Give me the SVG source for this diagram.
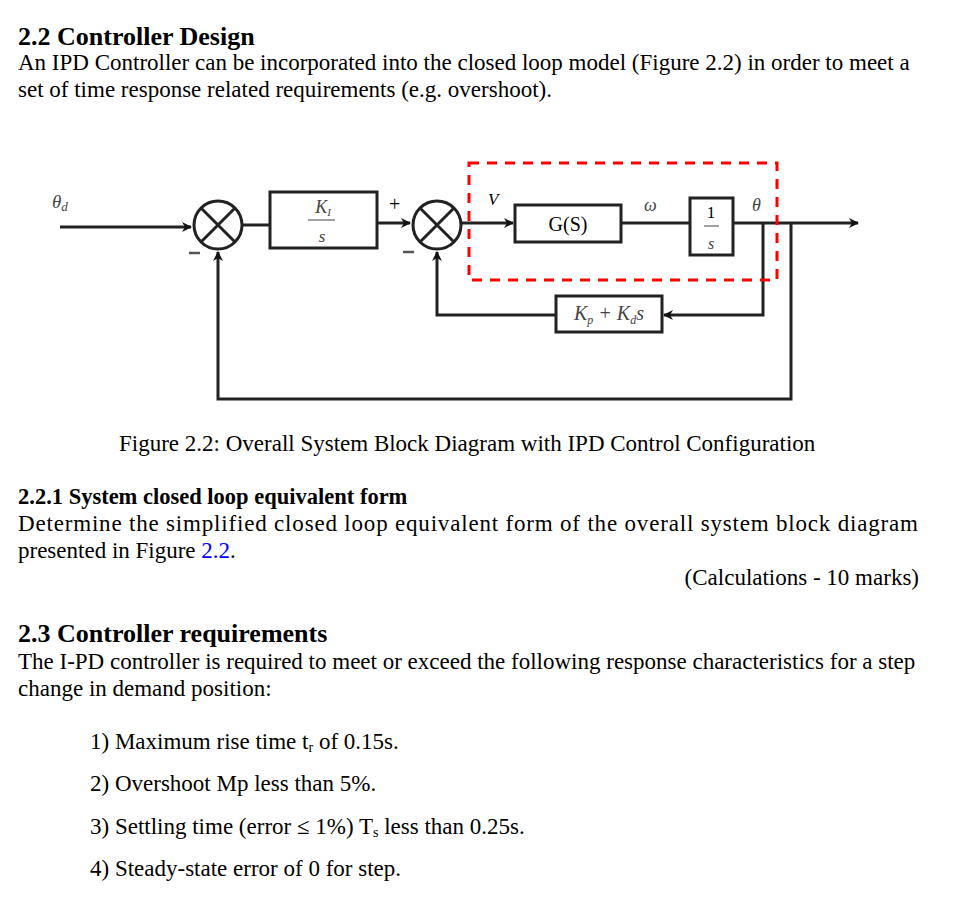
<svg xmlns="http://www.w3.org/2000/svg" width="961" height="923" viewBox="0 0 961 923">
<style>
text{font-family:"Liberation Serif",serif;fill:#000}
.h{font-weight:bold;font-size:26px}
.b{font-size:23px}
.blk{fill:#fff;stroke:#222;stroke-width:3}
.ln{fill:none;stroke:#222;stroke-width:3}
.m{font-family:"Liberation Serif",serif;font-style:italic;fill:#444}
</style>
<defs><marker id="a" markerWidth="10" markerHeight="10" refX="9" refY="5" orient="auto" markerUnits="userSpaceOnUse"><path d="M0,0L10,5L0,10L3,5z" fill="#111"/></marker></defs>
<rect width="961" height="923" fill="#fff"/>
<text class="h" x="18" y="45">2.2 Controller Design</text>
<text class="b" x="18" y="70">An IPD Controller can be incorporated into the closed loop model (Figure 2.2) in order to meet a</text>
<text class="b" x="18" y="97">set of time response related requirements (e.g. overshoot).</text>
<g id="connectors">
<line class="ln" x1="60" y1="227" x2="191" y2="227" stroke-width="4" marker-end="url(#a)"/>
<line class="ln" x1="243" y1="225" x2="270" y2="225"/>
<line class="ln" x1="377" y1="223" x2="410" y2="223" marker-end="url(#a)"/>
<line class="ln" x1="462" y1="223" x2="513" y2="223" marker-end="url(#a)"/>
<line class="ln" x1="621" y1="223" x2="690" y2="223"/>
<line class="ln" x1="733" y1="223" x2="858" y2="223" marker-end="url(#a)"/>
<polyline class="ln" points="763,223 763,315 664,315" marker-end="url(#a)"/>
<polyline class="ln" points="556,315 437,315 437,252" marker-end="url(#a)"/>
<polyline class="ln" points="791,223 791,399 218,399 218,252" marker-end="url(#a)"/>
</g>
<g id="sum1"><circle class="blk" cx="218" cy="225" r="24"/><path class="ln" d="M201,208L235,242M235,208L201,242"/><line x1="189" y1="253" x2="200" y2="253" stroke="#555" stroke-width="2.5"/></g>
<g id="ki"><rect class="blk" x="270" y="192" width="107" height="56"/><text class="m" x="323" y="213" font-size="18" text-anchor="middle">K<tspan font-size="11" dy="3">I</tspan></text><line x1="308" y1="220" x2="335" y2="220" stroke="#444"/><text class="m" x="322" y="242" font-size="17" text-anchor="middle">s</text></g>
<g id="sum2"><circle class="blk" cx="437" cy="225" r="24"/><path class="ln" d="M420,208L454,242M454,208L420,242"/><text x="389" y="211" font-size="20" font-family="Liberation Sans,sans-serif">+</text><line x1="403" y1="252" x2="414" y2="252" stroke="#555" stroke-width="2.5"/></g>
<g id="plant"><rect x="469" y="163" width="308" height="117" fill="none" stroke="#f00" stroke-width="3" stroke-dasharray="10,8"/></g>
<g id="gs"><rect class="blk" x="515" y="205" width="106" height="37"/><text x="568" y="231" font-size="20" text-anchor="middle" font-family="Liberation Sans,sans-serif">G(S)</text></g>
<g id="integ"><rect class="blk" x="690" y="198" width="43" height="57"/><text x="711" y="218" font-size="17" text-anchor="middle" font-family="Liberation Serif,serif">1</text><line x1="704" y1="226" x2="719" y2="226" stroke="#444"/><text class="m" x="711" y="249" font-size="16" text-anchor="middle">s</text></g>
<g id="pd"><rect class="blk" x="556" y="296" width="106" height="36"/><text class="m" x="609" y="320" font-size="20" text-anchor="middle">K<tspan font-size="12" dy="4">p</tspan><tspan dy="-4"> + K</tspan><tspan font-size="12" dy="4">d</tspan><tspan dy="-4">s</tspan></text></g>
<text class="m" x="52" y="208" font-size="19">θ<tspan font-size="13" dy="3">d</tspan></text>
<text x="488" y="205" font-size="17" font-style="italic" font-family="Liberation Sans,sans-serif" fill="#444">V</text>
<text class="m" x="644" y="211" font-size="18">ω</text>
<text class="m" x="752" y="211" font-size="18">θ</text>
<text class="b" x="119" y="451">Figure 2.2: Overall System Block Diagram with IPD Control Configuration</text>
<text x="18" y="504" font-weight="bold" font-size="22.5px">2.2.1 System closed loop equivalent form</text>
<text class="b" x="18" y="531" textLength="900" lengthAdjust="spacing">Determine the simplified closed loop equivalent form of the overall system block diagram</text>
<text class="b" x="18" y="558">presented in Figure <tspan fill="#00f">2.2</tspan>.</text>
<text class="b" x="919" y="585" text-anchor="end" fill="#c00000">(Calculations - 10 marks)</text>
<text class="h" x="18" y="642">2.3 Controller requirements</text>
<text class="b" x="18" y="669">The I-PD controller is required to meet or exceed the following response characteristics for a step</text>
<text class="b" x="18" y="696">change in demand position:</text>
<text class="b" x="90" y="749">1) Maximum rise time t<tspan font-size="14" dy="3">r</tspan><tspan dy="-3"> of 0.15s.</tspan></text>
<text class="b" x="90" y="791">2) Overshoot Mp less than 5%.</text>
<text class="b" x="90" y="834">3) Settling time (error ≤ 1%) T<tspan font-size="14" dy="3">s</tspan><tspan dy="-3"> less than 0.25s.</tspan></text>
<text class="b" x="90" y="876">4) Steady-state error of 0 for step.</text>
</svg>
